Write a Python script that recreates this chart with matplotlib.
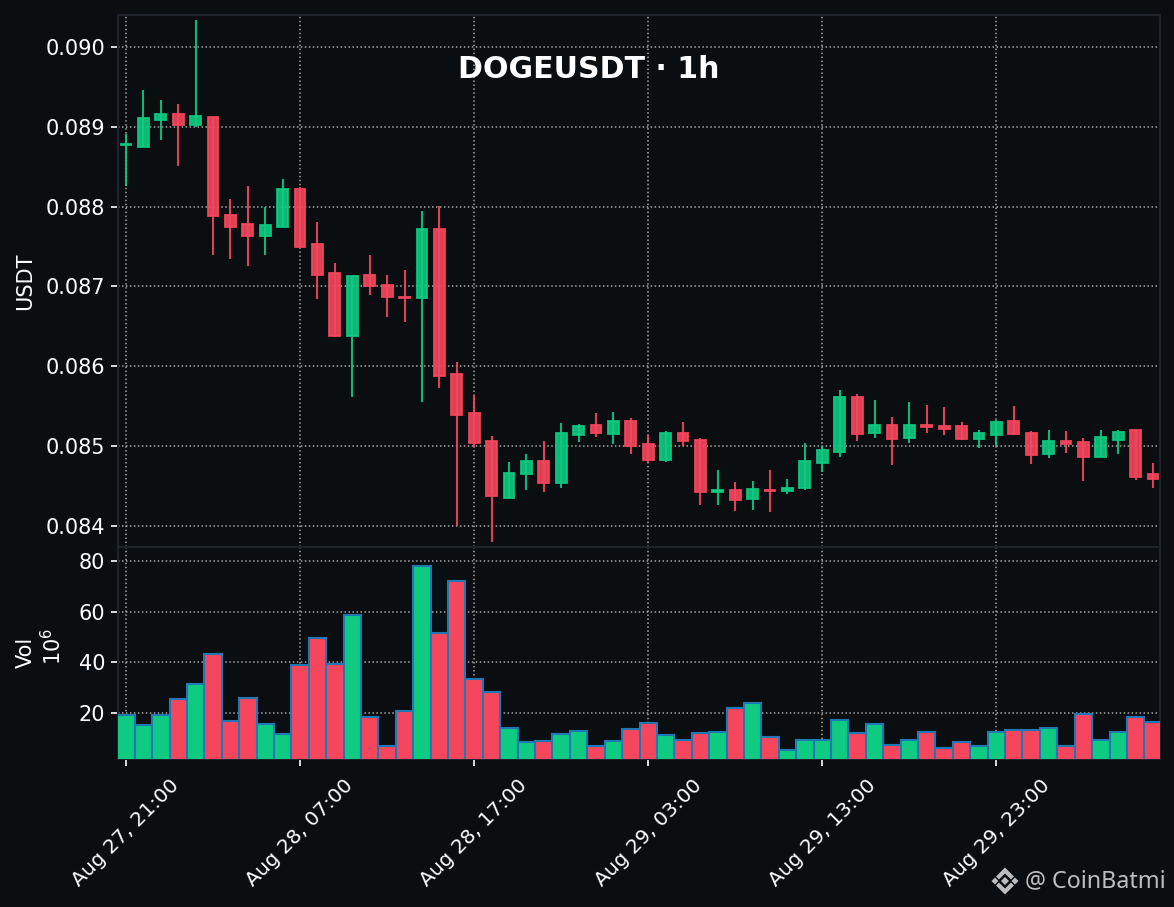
import matplotlib
matplotlib.use("Agg")
import matplotlib.pyplot as plt
from matplotlib.patches import Polygon
from matplotlib.transforms import Affine2D

# candles (USDT)
opens = [0.08877, 0.08875, 0.08909, 0.08916, 0.08902, 0.08912, 0.08790, 0.08778, 0.08763, 0.08775,
         0.08822, 0.08753, 0.08717, 0.08638, 0.08715, 0.08702, 0.08687, 0.08685, 0.08772, 0.08590,
         0.08541, 0.08506, 0.08435, 0.08465, 0.08481, 0.08454, 0.08514, 0.08526, 0.08515, 0.08531,
         0.08503, 0.08483, 0.08516, 0.08508, 0.08442, 0.08445, 0.08434, 0.08445, 0.08444, 0.08448,
         0.08479, 0.08493, 0.08561, 0.08517, 0.08526, 0.08510, 0.08526, 0.08525, 0.08525, 0.08509,
         0.08514, 0.08531, 0.08516, 0.08490, 0.08506, 0.08505, 0.08487, 0.08508, 0.08520, 0.08465]
highs = [0.08891, 0.08946, 0.08933, 0.08929, 0.09034, 0.08912, 0.08809, 0.08826, 0.08800, 0.08835,
         0.08825, 0.08781, 0.08730, 0.08713, 0.08740, 0.08715, 0.08721, 0.08794, 0.08801, 0.08605,
         0.08564, 0.08513, 0.08480, 0.08490, 0.08506, 0.08529, 0.08528, 0.08541, 0.08543, 0.08535,
         0.08514, 0.08519, 0.08530, 0.08510, 0.08470, 0.08455, 0.08456, 0.08470, 0.08459, 0.08504,
         0.08500, 0.08570, 0.08565, 0.08558, 0.08536, 0.08555, 0.08551, 0.08549, 0.08530, 0.08520,
         0.08533, 0.08550, 0.08519, 0.08520, 0.08519, 0.08510, 0.08520, 0.08520, 0.08520, 0.08479]
lows = [0.08826, 0.08875, 0.08883, 0.08851, 0.08900, 0.08740, 0.08734, 0.08726, 0.08740, 0.08775,
        0.08749, 0.08684, 0.08637, 0.08562, 0.08689, 0.08662, 0.08656, 0.08555, 0.08573, 0.08400,
        0.08499, 0.08380, 0.08435, 0.08445, 0.08443, 0.08448, 0.08505, 0.08511, 0.08503, 0.08490,
        0.08479, 0.08480, 0.08500, 0.08426, 0.08426, 0.08419, 0.08420, 0.08417, 0.08440, 0.08445,
        0.08468, 0.08486, 0.08506, 0.08510, 0.08476, 0.08504, 0.08516, 0.08514, 0.08508, 0.08498,
        0.08500, 0.08514, 0.08478, 0.08485, 0.08491, 0.08456, 0.08487, 0.08490, 0.08458, 0.08448]
closes = [0.08878, 0.08911, 0.08916, 0.08902, 0.08913, 0.08788, 0.08775, 0.08763, 0.08777, 0.08822,
          0.08750, 0.08715, 0.08638, 0.08713, 0.08700, 0.08687, 0.08685, 0.08772, 0.08588, 0.08539,
          0.08504, 0.08437, 0.08467, 0.08481, 0.08454, 0.08516, 0.08525, 0.08517, 0.08532, 0.08500,
          0.08483, 0.08517, 0.08507, 0.08443, 0.08445, 0.08433, 0.08446, 0.08444, 0.08448, 0.08481,
          0.08495, 0.08561, 0.08515, 0.08526, 0.08509, 0.08526, 0.08524, 0.08522, 0.08509, 0.08516,
          0.08530, 0.08515, 0.08489, 0.08506, 0.08503, 0.08487, 0.08511, 0.08518, 0.08462, 0.08459]
# volume in millions
volumes = [19.1, 15.5, 19.1, 25.4, 31.3, 43.2, 16.7, 25.8, 15.9, 11.6,
           38.8, 49.5, 39.2, 58.6, 18.3, 7.2, 21.0, 78.0, 51.6, 72.0,
           33.4, 28.3, 14.1, 8.5, 9.0, 11.7, 13.0, 7.0, 9.0, 13.7,
           16.0, 11.3, 9.3, 12.0, 12.5, 22.0, 24.0, 10.5, 5.5, 9.5,
           9.5, 17.2, 12.0, 15.7, 7.4, 9.2, 12.4, 6.4, 8.8, 7.2,
           12.4, 13.2, 13.2, 14.0, 7.2, 19.5, 9.2, 12.4, 18.3, 16.3]

x_ticks = [0, 10, 20, 30, 40, 50]
x_labels = ["Aug 27, 21:00", "Aug 28, 07:00", "Aug 28, 17:00",
            "Aug 29, 03:00", "Aug 29, 13:00", "Aug 29, 23:00"]
price_ticks = [0.084, 0.085, 0.086, 0.087, 0.088, 0.089, 0.090]
vol_ticks = [20, 40, 60, 80]

BG = "#0b0e11"
GREEN = "#0ecb81"
RED = "#f6465d"
SPINE = "#1e2329"
W, H = 1174, 907

fig = plt.figure(figsize=(W / 150, H / 150), dpi=150, facecolor=BG)
ax = fig.add_axes([118 / W, 1 - 547 / H, 1042 / W, (547 - 14.5) / H])
vax = fig.add_axes([118 / W, 1 - 758.5 / H, 1042 / W, (758.5 - 547) / H], sharex=ax)

idx = list(range(len(opens)))
colors = [GREEN if c >= o else RED for o, c in zip(opens, closes)]

ax.vlines(idx, lows, highs, colors=colors, linewidth=1.0, alpha=0.9, zorder=3)
ax.bar(idx, [c - o for o, c in zip(opens, closes)], bottom=opens, width=0.62,
       color=colors, edgecolor=colors, linewidth=0.9, alpha=0.9, zorder=3)
vax.bar(idx, volumes, width=1.0, color=colors, edgecolor="#1f77b4", linewidth=1.0, zorder=3)

ax.set_xlim(-0.46, 59.4)
ax.set_ylim(0.083737, 0.090407)
vax.set_ylim(2.1, 85.5)

ax.set_yticks(price_ticks)
ax.set_yticklabels(["%.3f" % p for p in price_ticks])
vax.set_yticks(vol_ticks)
vax.set_xticks(x_ticks)
vax.set_xticklabels(x_labels, rotation=45, ha="center", rotation_mode="default", fontsize=9.7)
ax.tick_params(axis="x", bottom=False, labelbottom=False)

ax.set_ylabel("USDT", color="white", fontsize=10)
vax.set_ylabel("Vol", color="white", fontsize=10)
ax.yaxis.set_label_coords((35 - 118) / 1042, 0.5)
vax.yaxis.set_label_coords((36 - 118) / 1042, 0.5)
fig.text(53 / W, 1 - 646 / H, "$10^{6}$", color="white", fontsize=10, rotation=90,
         ha="center", va="center")

for a in [ax, vax]:
    a.set_facecolor(BG)
    a.grid(True, color="#aaaaaa", linestyle=":", linewidth=0.72, zorder=0)
    a.set_axisbelow(True)
    a.tick_params(axis="y", colors="white", labelsize=10, length=3.2, pad=3.0)
    a.tick_params(axis="x", colors="white", length=3.2, pad=5.0)
    for s in a.spines.values():
        s.set_color(SPINE)
        s.set_linewidth(1.0)

fig.text(0.5 + 1.5 / W, 1 - 69 / H, "DOGEUSDT \u00b7 1h", color="white", fontsize=14.4,
         fontweight="bold", ha="center", va="center")

# watermark, logo drawn in pixels around (1005, 881)
logo = Affine2D().translate(1005, H - 881)
GREY = "#bdbdbd"
shapes = [
    [(0, 4), (4, 0), (0, -4), (-4, 0)],
    [(-13.5, 0), (-10, 3.5), (-6.5, 0), (-10, -3.5)],
    [(13.5, 0), (10, 3.5), (6.5, 0), (10, -3.5)],
    [(0, 13.5), (9, 4.5), (6, 1.5), (0, 7.5), (-6, 1.5), (-9, 4.5)],
    [(0, -13.5), (9, -4.5), (6, -1.5), (0, -7.5), (-6, -1.5), (-9, -4.5)],
]
for pts in shapes:
    fig.add_artist(Polygon(pts, closed=True, facecolor=GREY, edgecolor="none", transform=logo))
fig.text(1025 / W, 1 - 881 / H, "@ CoinBatmi", color=GREY, fontsize=11.2,
         family="Noto Sans", ha="left", va="center")

fig.savefig("out.png", dpi=150, facecolor=BG)
